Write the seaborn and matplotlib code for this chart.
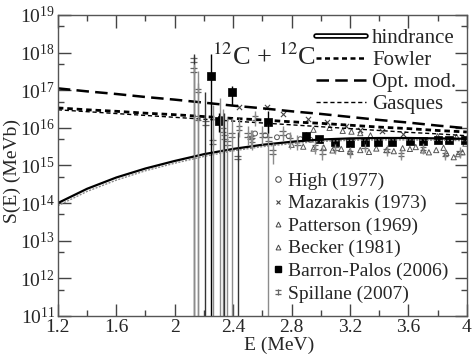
import numpy as np
import matplotlib
matplotlib.use("Agg")
import matplotlib.pyplot as plt
import seaborn as sns
from matplotlib.lines import Line2D
from matplotlib.path import Path
from matplotlib.legend_handler import HandlerTuple
from matplotlib.ticker import MultipleLocator, LogLocator, NullFormatter

# curves (log10 S in MeV b) on an energy grid
E_grid = [1.2, 1.4, 1.6, 1.8, 2.0, 2.2, 2.4, 2.6, 2.8, 3.0, 3.2, 3.4, 3.6, 3.8, 4.0]
hindrance = [14.0, 14.38, 14.68, 14.92, 15.12, 15.3, 15.44, 15.55, 15.63, 15.69, 15.72, 15.73, 15.73, 15.72, 15.71]
hindrance_b = [13.93, 14.31, 14.61, 14.86, 15.06, 15.24, 15.39, 15.5, 15.58, 15.64, 15.67, 15.68, 15.68, 15.67, 15.66]
fowler = [16.53, 16.48, 16.44, 16.39, 16.35, 16.30, 16.25, 16.21, 16.16, 16.12, 16.07, 16.02, 15.98, 15.93, 15.89]
optmod = [17.05, 16.97, 16.90, 16.82, 16.75, 16.67, 16.59, 16.52, 16.44, 16.37, 16.29, 16.21, 16.14, 16.06, 15.99]
gasques = [16.48, 16.43, 16.38, 16.33, 16.28, 16.23, 16.18, 16.13, 16.08, 16.03, 15.98, 15.93, 15.88, 15.84, 15.79]

# data sets
high_E = [2.55, 2.62, 2.70, 2.78, 2.86, 2.93, 3.00]
high_S = [15.85, 15.80, 15.75, 15.78, 15.70, 15.68, 15.66]

maz_E = [2.44, 2.63, 2.74, 2.91, 3.04, 3.17, 3.27, 3.42, 3.56]
maz_S = [16.55, 16.55, 16.37, 16.24, 16.16, 16.05, 15.94, 15.92, 15.84]

pat_E = [2.95, 3.06, 3.15, 3.21, 3.27, 3.34, 3.62, 3.80, 3.93, 3.98]
pat_S = [15.95, 16.0, 15.92, 15.90, 15.86, 15.80, 15.66, 15.78, 15.76, 15.72]

bec_E = [2.80, 2.88, 2.95, 3.02, 3.08, 3.14, 3.20, 3.27, 3.33, 3.38, 3.45, 3.50, 3.56, 3.61, 3.65,
         3.70, 3.74, 3.79, 3.84, 3.86, 3.91, 3.94, 3.97, 3.99]
bec_S = [15.55, 15.50, 15.45, 15.48, 15.40, 15.44, 15.38, 15.41, 15.36, 15.45, 15.41, 15.38, 15.46,
         15.44, 15.49, 15.40, 15.35, 15.41, 15.47, 15.33, 15.22, 15.30, 15.35, 15.58]

bp_E = [2.25, 2.30, 2.39, 2.64, 2.90, 2.99, 3.10, 3.20, 3.30, 3.39, 3.49, 3.61, 3.70, 3.80, 3.88, 3.99]
bp_S = [17.38, 16.18, 16.95, 16.15, 15.78, 15.70, 15.63, 15.60, 15.62, 15.62, 15.62, 15.64, 15.66, 15.68, 15.69, 15.69]
bp_lo = [10.0, 15.90, 16.60, 15.85, 15.68, 15.62, 15.56, 15.54, 15.56, 15.56, 15.56, 15.58, 15.60, 15.62, 15.64, 15.64]
bp_hi = [17.95, 16.40, 17.10, 16.45, 15.88, 15.77, 15.69, 15.65, 15.67, 15.67, 15.67, 15.69, 15.71, 15.73, 15.74, 15.74]

sp_E = [2.13, 2.13, 2.16, 2.16, 2.21, 2.26, 2.31, 2.33, 2.34, 2.36, 2.39, 2.43, 2.44, 2.50, 2.52,
        2.53, 2.55, 2.60, 2.64, 2.67, 2.74, 2.79, 2.84, 2.96, 3.01, 3.10, 3.20, 3.30, 3.45, 3.55,
        3.70, 3.85, 3.95]
sp_S = [17.80, 17.54, 17.00, 16.26, 16.13, 15.62, 16.20, 15.94, 15.76, 15.60, 15.81, 15.22, 16.00,
        15.81, 15.75, 15.68, 16.26, 15.81, 15.70, 15.36, 15.86, 15.68, 15.60, 15.49, 15.36, 15.45,
        15.35, 15.50, 15.40, 15.30, 15.45, 15.30, 15.35]
sp_lo = [10.0, 10.0, 10.0, 10.0, 10.0, 10.0, 10.0, 10.0, 10.0, 10.0, 10.0, 10.0, 15.75,
         15.55, 15.50, 15.40, 16.05, 15.55, 10.0, 15.05, 15.65, 15.45, 15.40, 15.30, 15.15, 15.30,
         15.20, 15.35, 15.25, 15.15, 15.30, 15.15, 15.20]
sp_hi = [17.95, 17.70, 17.50, 17.20, 16.95, 16.60, 16.80, 16.50, 16.40, 16.30, 16.25, 15.90, 16.25,
         16.05, 15.95, 15.95, 16.45, 16.05, 16.10, 15.60, 16.05, 15.90, 15.80, 15.65, 15.55, 15.60,
         15.50, 15.65, 15.55, 15.45, 15.60, 15.45, 15.50]
sp_dark = [1, 0, 0, 0, 1, 0, 0, 0, 1, 0, 0, 1, 0, 0, 0, 0, 0, 0, 0, 0, 0, 0, 0, 0, 0, 0, 0, 0, 0, 0, 0, 0, 0]

sns.set_style("ticks")
plt.rcParams["font.family"] = "serif"
plt.rcParams["font.serif"] = ["Liberation Serif", "DejaVu Serif"]
plt.rcParams["mathtext.fontset"] = "stix"

fig = plt.figure(figsize=(4.74, 3.57), dpi=100)
ax = fig.add_axes([0.122, 0.115, 0.863, 0.843])

def p(v):
    return 10 ** np.asarray(v, dtype=float)

# model curves
sns.lineplot(x=E_grid, y=p(hindrance_b), ax=ax, color="#8a8a8a", lw=1.0, linestyle=(0, (1.5, 1)))
sns.lineplot(x=E_grid, y=p(hindrance), ax=ax, color="black", lw=1.6)
sns.lineplot(x=E_grid, y=p(optmod), ax=ax, color="black", lw=1.8, linestyle=(0, (5, 2.5)))
sns.lineplot(x=E_grid, y=p(fowler), ax=ax, color="black", lw=2.0, linestyle=(0, (2, 1.4)))
sns.lineplot(x=E_grid, y=p(gasques), ax=ax, color="black", lw=1.0, linestyle=(0, (3, 2)))

# error bars
sp_col = ["#333333" if d else "#8c8c8c" for d in sp_dark]
ax.vlines(sp_E, p(sp_lo), p(sp_hi), colors=sp_col, lw=1.0)
ax.vlines(bp_E, p(bp_lo), p(bp_hi), colors="black", lw=1.0)

sp_path = Path([(-0.5, 0.25), (0.5, 0.25), (-0.5, -0.25), (0.5, -0.25), (0, 0.55), (0, -0.55)],
               [Path.MOVETO, Path.LINETO, Path.MOVETO, Path.LINETO, Path.MOVETO, Path.LINETO])

sns.scatterplot(x=sp_E, y=p(sp_S), ax=ax, marker=sp_path, s=28, facecolor="none",
                edgecolor="#666666", linewidth=0.9)
sns.scatterplot(x=bec_E, y=p(bec_S), ax=ax, marker="^", s=14, facecolor="none",
                edgecolor="#555555", linewidth=0.7)
sns.scatterplot(x=pat_E, y=p(pat_S), ax=ax, marker="^", s=14, facecolor="none",
                edgecolor="#555555", linewidth=0.7)
sns.scatterplot(x=high_E, y=p(high_S), ax=ax, marker="o", s=12, facecolor="none",
                edgecolor="#555555", linewidth=0.7)
sns.scatterplot(x=maz_E, y=p(maz_S), ax=ax, marker="x", s=14, color="#444444", linewidth=0.8)
sns.scatterplot(x=bp_E, y=p(bp_S), ax=ax, marker="s", s=40, color="black", edgecolor="black")

ax.set_yscale("log")
ax.set_xlim(1.2, 4.0)
ax.set_ylim(1e11, 1e19)
ax.xaxis.set_minor_locator(MultipleLocator(0.2))
ax.yaxis.set_major_locator(LogLocator(base=10, numticks=20))
ax.yaxis.set_minor_locator(LogLocator(base=10, subs=(5.0,), numticks=20))
ax.yaxis.set_minor_formatter(NullFormatter())
ax.set_xticks([1.2, 1.6, 2.0, 2.4, 2.8, 3.2, 3.6, 4.0])
ax.set_xticklabels(["1.2", "1.6", "2", "2.4", "2.8", "3.2", "3.6", "4"])
ax.tick_params(which="both", direction="in", top=True, right=True, color="#444444",
               labelsize=14)
ax.tick_params(axis="x", pad=2)
ax.tick_params(axis="y", pad=2)
ax.tick_params(which="major", length=9, width=1)
ax.tick_params(which="minor", length=4.5, width=1)
for s in ax.spines.values():
    s.set_color("#555555")
    s.set_linewidth(1)

ax.set_xlabel("E (MeV)", fontsize=14)
ax.set_ylabel("S(E) (MeVb)", fontsize=14)
ax.xaxis.set_label_coords(0.54, -0.068)
ax.yaxis.set_label_coords(-0.09, 0.48)

ax.text(0.505, 0.835, r"$^{12}$C + $^{12}$C", transform=ax.transAxes, fontsize=19,
        ha="center", va="baseline")

# legend for the curves
h_hind = (Line2D([], [], color="black", lw=4.0), Line2D([], [], color="white", lw=1.5))
h_fow = Line2D([], [], color="black", lw=1.8, linestyle=(0, (2, 1.4)))
h_opt = Line2D([], [], color="black", lw=1.8, linestyle=(0, (5, 2.5)))
h_gas = Line2D([], [], color="black", lw=1.0, linestyle=(0, (3, 2)))
leg1 = ax.legend([h_hind, h_fow, h_opt, h_gas], ["hindrance", "Fowler", "Opt. mod.", "Gasques"],
                 loc="upper left", bbox_to_anchor=(0.605, 0.99), frameon=False, fontsize=15,
                 handlelength=2.4, handletextpad=0.3, labelspacing=0.12, borderpad=0,
                 handler_map={tuple: HandlerTuple(ndivide=1)})
ax.add_artist(leg1)

# legend for the data
m_high = Line2D([], [], ls="", marker="o", ms=4, mfc="none", mec="#444444", mew=0.7)
m_maz = Line2D([], [], ls="", marker="x", ms=3.5, color="#444444", mew=0.8)
m_pat = Line2D([], [], ls="", marker="^", ms=3.5, mfc="none", mec="#444444", mew=0.7)
m_bec = Line2D([], [], ls="", marker="^", ms=3.5, mfc="none", mec="#444444", mew=0.7)
m_bp = Line2D([], [], ls="", marker="s", ms=5, color="black")
m_sp = Line2D([], [], ls="", marker=sp_path, ms=5, mfc="none", mec="#666666", mew=0.9)
ax.legend([m_high, m_maz, m_pat, m_bec, m_bp, m_sp],
          ["High (1977)", "Mazarakis (1973)", "Patterson (1969)", "Becker (1981)",
           "Barron-Palos (2006)", "Spillane (2007)"],
          loc="upper left", bbox_to_anchor=(0.5, 0.51), frameon=False, fontsize=14,
          handlelength=0.6, handletextpad=0.2, labelspacing=0.25, borderpad=0)

fig.savefig("out.png", dpi=100)
